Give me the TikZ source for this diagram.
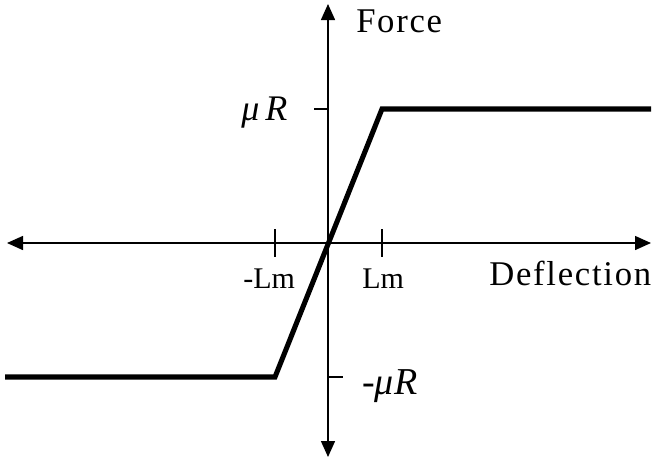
\documentclass[tikz,border=0pt]{standalone}
\usepackage{fontspec}
\setmainfont{Liberation Serif}
\usetikzlibrary{arrows.meta}
\begin{document}
\begin{tikzpicture}[x=0.75pt,y=-0.75pt,
  axis/.style={line width=1.1pt,-{Triangle[length=12pt,width=10.5pt]}},
  curve/.style={line width=3.8pt,line join=miter},
  tick/.style={line width=0.9pt},
  lbl/.style={inner sep=0pt,anchor=base west},
  big/.style={font=\addfontfeature{LetterSpace=5}\fontsize{26pt}{30pt}\selectfont},
  mid/.style={font=\fontsize{22.5pt}{26pt}\selectfont}]
\useasboundingbox (0,0) rectangle (663,461);
\coordinate (O) at (328,243);
\coordinate (L) at (7,243);
\coordinate (R) at (651,243);
\coordinate (T) at (328,4);
\coordinate (B) at (328,457);
\draw[axis] (O) -- (L);
\draw[axis] (O) -- (R);
\draw[axis] (O) -- (T);
\draw[axis] (O) -- (B);
% ticks
\coordinate (tl1) at (275,229); \coordinate (tl2) at (275,257);
\coordinate (tr1) at (382,229); \coordinate (tr2) at (382,257);
\coordinate (tu1) at (314,109); \coordinate (tu2) at (328,109);
\coordinate (td1) at (328,377); \coordinate (td2) at (343,377);
\draw[tick] (tl1) -- (tl2);
\draw[tick] (tr1) -- (tr2);
\draw[tick] (tu1) -- (tu2);
\draw[tick] (td1) -- (td2);
% curve
\coordinate (c1) at (5,377);
\coordinate (c2) at (275,377);
\coordinate (c3) at (382,109);
\coordinate (c4) at (651,109);
\draw[curve] (c1) -- (c2) -- (c3) -- (c4);
% labels
\node[lbl,big] (force) at (356,32) {Force};
\node[lbl,big] (defl) at (489,285) {Deflection};
\node[lbl,mid] (lm) at (362,288) {Lm};
\node[lbl,mid] (mlm) at (243,288) {-Lm};
\node[lbl,font=\fontsize{27pt}{31pt}\selectfont] (mur) at (241,120) {\itshape μ\,R};
\node[lbl,font=\fontsize{28.5pt}{32pt}\selectfont] (mmur) at (362,394) {-\itshape μR};
\end{tikzpicture}
\end{document}
